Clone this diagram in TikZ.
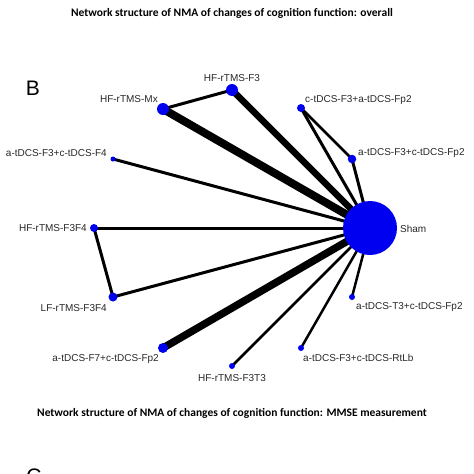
\documentclass[tikz,border=0pt]{standalone}
\usepackage{fontspec}
\setmainfont{Liberation Sans}
\newfontfamily\titlefont{Carlito}
\pgfdeclarelayer{background}
\pgfsetlayers{background,main}
\definecolor{nodeblue}{RGB}{0,0,240}
\definecolor{labgray}{RGB}{40,40,40}
\begin{document}
\begin{tikzpicture}[x=1pt,y=-1pt,
  trt/.style={circle,fill=nodeblue,inner sep=0pt,minimum size=#1},
  lab/.style={font=\fontsize{10}{12}\selectfont,text=labgray,inner sep=0pt},
  ttl/.style={font=\titlefont\bfseries\fontsize{11.5}{13}\selectfont,inner sep=0pt},
  edge/.style={line width=#1,black}]
\useasboundingbox (0,0) rectangle (474,474);
% titles
\node[ttl] (t1) at (232,13) {Network structure of NMA of changes of cognition function: overall};
\node[ttl] (t2) at (232,413) {Network structure of NMA of changes of cognition function: MMSE measurement};
\node[font=\fontsize{21}{24}\selectfont,inner sep=0pt,anchor=base] (B) at (33,95) {B};
\node[font=\fontsize{21}{24}\selectfont,inner sep=0pt,anchor=base] (C) at (34,483) {C};
% treatment nodes
\node[trt=54pt] (sham) at (370,228) {};
\node[trt=12pt] (f3) at (232,90) {};
\node[trt=12pt] (mx) at (163,109) {};
\node[trt=8pt] (cf3afp2) at (301,108) {};
\node[trt=8.5pt] (af3cfp2) at (352,159) {};
\node[trt=5pt] (af3cf4) at (113,159) {};
\node[trt=8pt] (hff3f4) at (94,228) {};
\node[trt=9pt] (lff3f4) at (113,297) {};
\node[trt=10pt] (af7) at (163,348) {};
\node[trt=6pt] (f3t3) at (232,366) {};
\node[trt=6pt] (rtlb) at (301,348) {};
\node[trt=6pt] (t3) at (352,297) {};
% labels
\node[lab,anchor=west] (lsham) at (400,229) {Sham};
\node[lab] (lf3) at (232,78) {HF-rTMS-F3};
\node[lab,anchor=east] (lmx) at (158,99) {HF-rTMS-Mx};
\node[lab,anchor=west] (lcf3afp2) at (305,100) {c-tDCS-F3+a-tDCS-Fp2};
\node[lab,anchor=west] (laf3cfp2) at (358,153) {a-tDCS-F3+c-tDCS-Fp2};
\node[lab,anchor=east] (laf3cf4) at (107,153) {a-tDCS-F3+c-tDCS-F4};
\node[lab,anchor=east] (lhff3f4) at (87,228) {HF-rTMS-F3F4};
\node[lab,anchor=east] (llff3f4) at (107,308) {LF-rTMS-F3F4};
\node[lab,anchor=east] (laf7) at (159,359) {a-tDCS-F7+c-tDCS-Fp2};
\node[lab] (lf3t3) at (232,378) {HF-rTMS-F3T3};
\node[lab,anchor=west] (lrtlb) at (303,358) {a-tDCS-F3+c-tDCS-RtLb};
\node[lab,anchor=west] (lt3) at (356,307) {a-tDCS-T3+c-tDCS-Fp2};
% edges
\begin{pgfonlayer}{background}
\fill[white] (0,0) rectangle (474,474);
\draw[edge=6.5pt] (sham.center) -- (f3.center);
\draw[edge=8pt] (sham.center) -- (mx.center);
\draw[edge=3pt] (mx.center) -- (f3.center);
\draw[edge=3pt] (sham.center) -- (cf3afp2.center);
\draw[edge=2.5pt] (cf3afp2.center) -- (af3cfp2.center);
\draw[edge=3pt] (sham.center) -- (af3cfp2.center);
\draw[edge=3pt] (sham.center) -- (af3cf4.center);
\draw[edge=3pt] (sham.center) -- (hff3f4.center);
\draw[edge=3pt] (hff3f4.center) -- (lff3f4.center);
\draw[edge=3pt] (sham.center) -- (lff3f4.center);
\draw[edge=7.5pt] (sham.center) -- (af7.center);
\draw[edge=2.5pt] (sham.center) -- (f3t3.center);
\draw[edge=2.5pt] (sham.center) -- (rtlb.center);
\draw[edge=2.5pt] (sham.center) -- (t3.center);
\end{pgfonlayer}
\end{tikzpicture}
\end{document}
